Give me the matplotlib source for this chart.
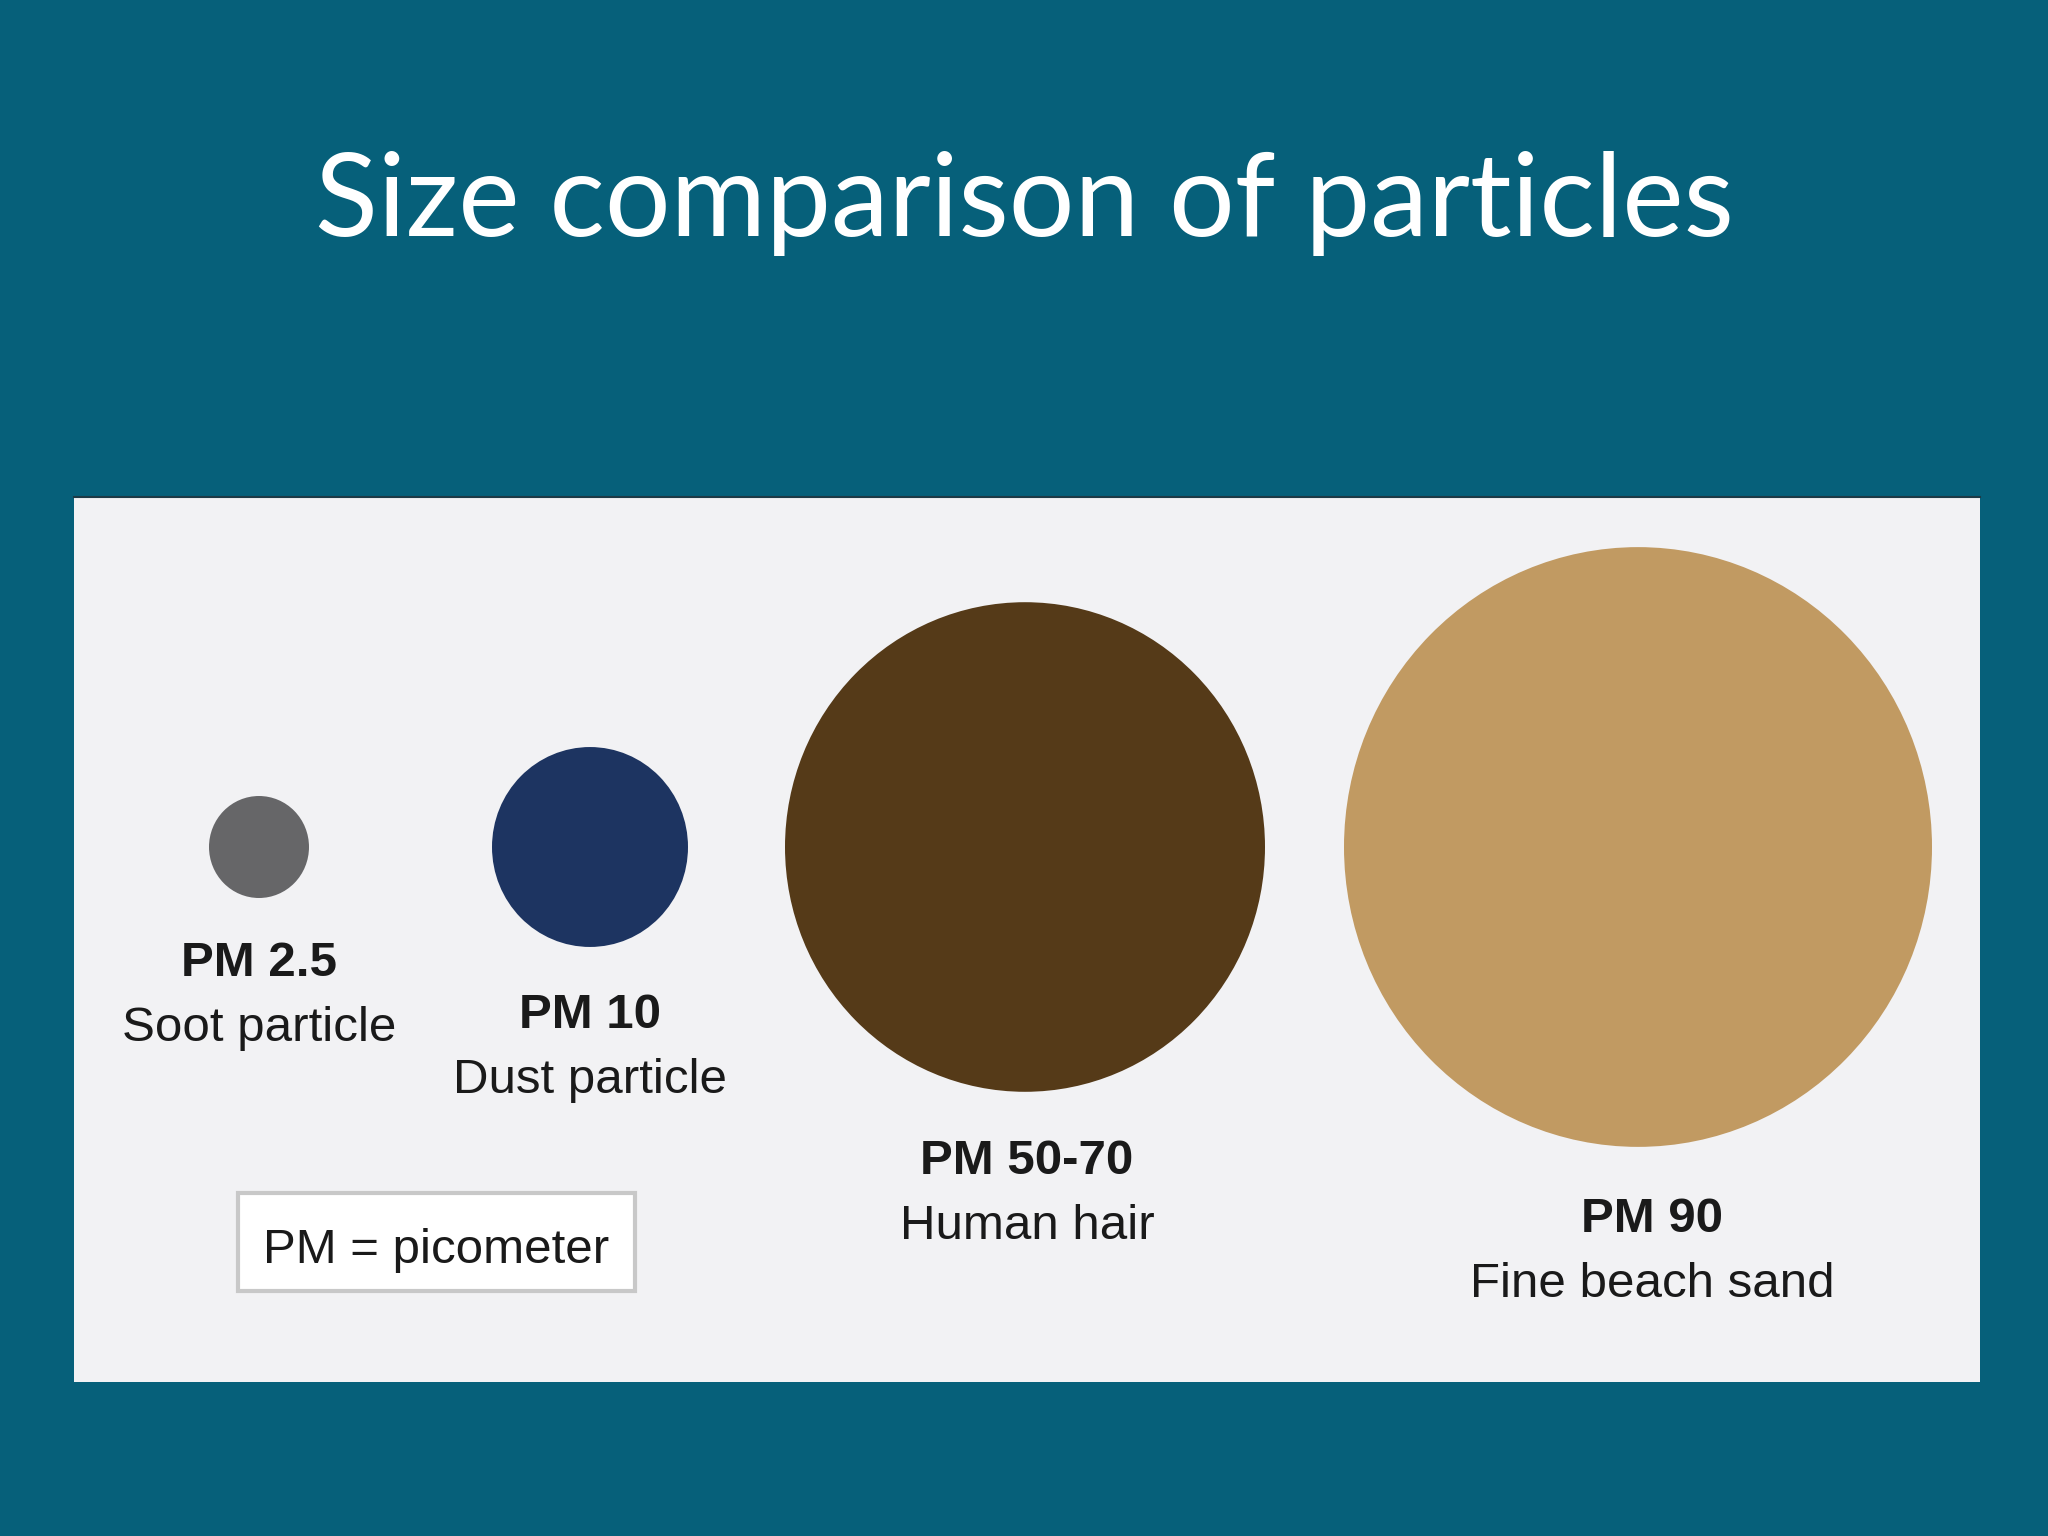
import matplotlib
matplotlib.use('Agg')
import matplotlib.pyplot as plt
from matplotlib.patches import Ellipse, Rectangle
from matplotlib import font_manager

# data
particles = ['PM 2.5', 'PM 10', 'PM 50-70', 'PM 90']
sources = ['Soot particle', 'Dust particle', 'Human hair', 'Fine beach sand']
diameters = [100, 196, 480, 588]   # drawn size of each particle
note = 'PM = picometer'
title = 'Size comparison of particles'

# layout (pixels, y down)
x_centers = [259, 590, 1025, 1638]
label_x = [259, 590, 1027, 1652]
y_center = 847
pm_baseline = [976, 1028, 1174, 1232]
src_gap = 65
colors = ['#666668', '#1d3461', '#553a18', '#c19a62']
teal = '#06607a'
panel = '#f2f2f4'

names = {f.name for f in font_manager.fontManager.ttflist}
label_font = 'Liberation Sans Narrow' if 'Liberation Sans Narrow' in names else 'Liberation Sans'
label_size = 42 if label_font == 'Liberation Sans Narrow' else 35.5

fig = plt.figure(figsize=(20.48, 15.36), dpi=100, facecolor=teal)
ax = fig.add_axes([0, 0, 1, 1])
ax.set_xlim(0, 2048)
ax.set_ylim(1536, 0)
ax.axis('off')

ax.text(1024, 236, title, ha='center', va='baseline', color='white',
        fontsize=83.5, family='Lato')

# light panel
ax.add_patch(Rectangle((74, 497), 1906, 885, facecolor=panel, edgecolor='none'))
ax.plot([74, 1980], [497, 497], color='#1d3a46', lw=1.5)

for i in range(len(particles)):
    d = diameters[i]
    ax.add_patch(Ellipse((x_centers[i], y_center), d, d * 1.02,
                         facecolor=colors[i], edgecolor='none'))
    ax.text(label_x[i], pm_baseline[i], particles[i], ha='center', va='baseline',
            fontsize=label_size, family=label_font, weight='bold', color='#1a1a1a')
    ax.text(label_x[i], pm_baseline[i] + src_gap, sources[i], ha='center', va='baseline',
            fontsize=label_size, family=label_font, color='#1a1a1a')

# legend-like box
ax.add_patch(Rectangle((238, 1193), 397, 98, facecolor='white', edgecolor='#c8c8c8', lw=3))
ax.text(436, 1263, note, ha='center', va='baseline', fontsize=label_size,
        family=label_font, color='#1a1a1a')

fig.savefig('out.png', dpi=100, facecolor=teal)
